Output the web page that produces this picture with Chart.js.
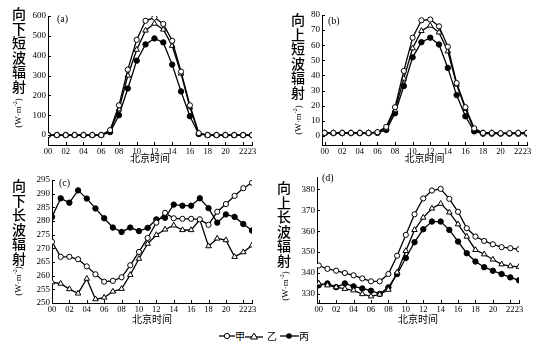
<!DOCTYPE html>
<html>
<head>
<meta charset="utf-8">
<script src="https://cdn.jsdelivr.net/npm/chart.js@4/dist/chart.umd.min.js"></script>
<style>
    body { margin: 0; background: #fff; width: 545px; height: 350px; position: relative; overflow: hidden; font-family: "Liberation Serif", serif; }
    canvas { position: absolute; }
    .vt { position: absolute; font-family: "Noto Sans CJK SC", sans-serif; font-weight: 500; font-size: 14px; line-height: 14.6px; width: 14px; color: #000; }
    .unit { position: absolute; font-size: 9px; transform: translate(-50%, -50%) rotate(-90deg); white-space: nowrap; color: #000; }
    .tag { position: absolute; font-size: 10px; color: #000; }
    #legend { position: absolute; left: 219px; top: 328px; font-family: "Noto Sans CJK SC", sans-serif; font-size: 10px; color: #000; display: flex; align-items: center; }
    #legend svg { display: block; }
</style>
</head>
<body>
<canvas id="chartA" width="272" height="165" style="left:0;top:0"></canvas>
<canvas id="chartB" width="273" height="165" style="left:272px;top:0"></canvas>
<canvas id="chartC" width="272" height="161" style="left:0;top:165px"></canvas>
<canvas id="chartD" width="273" height="161" style="left:272px;top:165px"></canvas>

<div class="vt" style="left:12px;top:6px">向下短波辐射</div>
<div class="unit" style="left:17px;top:113px">(W·m<sup style="font-size:6px">-2</sup>)</div>
<div class="vt" style="left:291px;top:12px">向上短波辐射</div>
<div class="unit" style="left:297px;top:120px">(W·m<sup style="font-size:6px">-2</sup>)</div>
<div class="vt" style="left:12px;top:178px">向下长波辐射</div>
<div class="unit" style="left:17px;top:281px">(W·m<sup style="font-size:6px">-2</sup>)</div>
<div class="vt" style="left:277px;top:180px">向上长波辐射</div>
<div class="unit" style="left:284px;top:286px">(W·m<sup style="font-size:6px">-2</sup>)</div>

<div class="tag" style="left:57px;top:13px">(a)</div>
<div class="tag" style="left:328px;top:15px">(b)</div>
<div class="tag" style="left:59px;top:177px">(c)</div>
<div class="tag" style="left:322px;top:172px">(d)</div>

<div id="legend">
    <svg width="16" height="10"><line x1="0" y1="5" x2="16" y2="5" stroke="#000" stroke-width="1.3"/><circle cx="8" cy="5" r="2.6" fill="#fff" stroke="#000"/></svg>
    <span>甲</span>
    <svg width="18" height="10"><line x1="0" y1="6" x2="18" y2="6" stroke="#000" stroke-width="1.3"/><polygon points="9,2 12.5,8 5.5,8" fill="#fff" stroke="#000"/></svg>
    <span style="margin-left:4px">乙</span>
    <svg width="19" height="10" style="margin-left:3px"><line x1="0" y1="5" x2="19" y2="5" stroke="#000" stroke-width="1.3"/><circle cx="9" cy="5" r="2.8" fill="#000"/></svg>
    <span>丙</span>
</div>

<script>
const hours = [0, 1, 2, 3, 4, 5, 6, 7, 8, 9, 10, 11, 12, 13, 14, 15, 16, 17, 18, 19, 20, 21, 22, 23];
const xTicks = [0, 2, 4, 6, 8, 10, 12, 14, 16, 18, 20, 22, 23];

// (a) downward shortwave
const swDownJia = [0, 0, 0, 0, 0, 0, 0, 25, 150, 330, 480, 576, 592, 560, 475, 320, 150, 10, 0, 0, 0, 0, 0, 0];
const swDownYi = [0, 0, 0, 0, 0, 0, 0, 20, 130, 300, 430, 527, 562, 532, 450, 310, 140, 8, 0, 0, 0, 0, 0, 0];
const swDownBing = [0, 0, 0, 0, 0, 0, 0, 15, 100, 235, 375, 457, 487, 467, 355, 220, 95, 5, 0, 0, 0, 0, 0, 0];
const yTicksA = [0, 100, 200, 300, 400, 500, 600];

// (b) upward shortwave
const swUpJia = [2, 2, 2, 2, 2, 2, 2.5, 6, 19, 43, 65, 76.5, 77, 72.5, 59, 35, 19, 5, 2, 2, 1.8, 1.8, 2, 2];
const swUpYi = [2, 2, 2, 2, 2, 2, 2.5, 5, 17, 38, 58, 69.5, 73, 68.5, 56, 34, 18, 4, 2, 2, 1.8, 1.8, 2, 2];
const swUpBing = [1.8, 1.8, 1.8, 1.8, 1.8, 1.8, 2, 4, 15, 33, 52, 62, 65, 60.5, 45, 27, 13, 3, 1.5, 1.5, 1.5, 1.5, 1.5, 1.5];
const yTicksB = [0, 10, 20, 30, 40, 50, 60, 70, 80];

// (c) downward longwave
const lwDownJia = [272.4, 266.9, 266.9, 266, 263.4, 260.5, 257.8, 258.1, 259.4, 263.8, 268.7, 273.8, 279.4, 283, 281, 280.8, 280.8, 280.6, 278.6, 283.4, 286.2, 289.2, 292, 294];
const lwDownYi = [257.6, 257.1, 255.1, 253.5, 258.9, 251.4, 252, 254.2, 255.2, 260.3, 266.2, 271.7, 274.9, 276.9, 278.4, 276.7, 276.7, 280.4, 270.8, 273.6, 273, 266.9, 268.6, 271.1];
const lwDownBing = [281.5, 288.3, 286.7, 291.2, 288.2, 284.6, 281, 277.6, 276, 277.6, 276.3, 277.5, 280.6, 281.2, 286, 285.6, 285.6, 288.3, 284.7, 279.4, 282.4, 281.5, 278.9, 276.5];
const yTicksC = [250, 255, 260, 265, 270, 275, 280, 285, 290, 295];

// (d) upward longwave
const lwUpJia = [343.5, 341.9, 341, 339.9, 338.8, 337.3, 335.9, 335.9, 339.4, 348.2, 358.2, 368.1, 375.7, 379.5, 380.3, 375.5, 369.3, 361.4, 357.4, 355.3, 353.7, 352.3, 351.8, 351.3];
const lwUpYi = [334.9, 334, 333.1, 332.3, 331.6, 329.8, 328.7, 329.6, 331.9, 340.2, 350.5, 360.6, 366.5, 370.9, 373.2, 369, 363.3, 357.4, 351, 348.9, 346.4, 344.1, 343.2, 342.9];
const lwUpBing = [334, 334.9, 333.1, 334.9, 333.5, 332.5, 331.4, 329.9, 333, 339.4, 347.1, 354.7, 360.9, 364.6, 364.6, 360.6, 355, 349.4, 345.4, 342.7, 341, 339.4, 337.8, 336.4];
const yTicksD = [330, 340, 350, 360, 370, 380];

const tickFont = { family: 'Liberation Serif', size: 9 };
const xTickFont = { family: 'Liberation Serif', size: 8.5 };

// small tick marks pointing into the plot, like the original figure
const innerTicks = {
    id: 'innerTicks',
    afterDraw(chart) {
        const ctx = chart.ctx;
        const x = chart.scales.x, y = chart.scales.y;
        ctx.save();
        ctx.strokeStyle = '#000';
        ctx.lineWidth = 1;
        ctx.beginPath();
        x.ticks.forEach(t => {
            const px = Math.round(x.getPixelForValue(t.value)) + 0.5;
            ctx.moveTo(px, y.bottom);
            ctx.lineTo(px, y.bottom - 3);
        });
        y.ticks.forEach(t => {
            const py = Math.round(y.getPixelForValue(t.value)) + 0.5;
            ctx.moveTo(x.left, py);
            ctx.lineTo(x.left + 3, py);
        });
        ctx.stroke();
        ctx.restore();
    }
};

function toPoints(values) {
    return hours.map((h, i) => ({ x: h, y: values[i] }));
}

function makeDatasets(jia, yi, bing) {
    const base = { borderColor: '#000', borderWidth: 1.3, pointBorderColor: '#000', pointBorderWidth: 1, tension: 0 };
    return [
        { ...base, label: '甲', data: toPoints(jia), pointStyle: 'circle', pointRadius: 2.6, pointBackgroundColor: '#fff' },
        { ...base, label: '乙', data: toPoints(yi), pointStyle: 'triangle', pointRadius: 3.2, pointBackgroundColor: '#fff' },
        { ...base, label: '丙', data: toPoints(bing), pointStyle: 'circle', pointRadius: 2.7, pointBackgroundColor: '#000' }
    ];
}

function drawPanel(id, datasets, cfg) {
    const ctx = document.getElementById(id).getContext('2d');
    new Chart(ctx, {
        type: 'line',
        data: { datasets: datasets },
        plugins: [innerTicks],
        options: {
            responsive: false,
            animation: false,
            events: [],
            layout: { padding: { top: cfg.top, right: cfg.right, left: 0, bottom: 0 } },
            plugins: { legend: { display: false }, tooltip: { enabled: false } },
            scales: {
                x: {
                    type: 'linear',
                    min: cfg.xMin,
                    max: 23,
                    afterBuildTicks: (scale) => { scale.ticks = xTicks.map(v => ({ value: v })); },
                    afterFit: (scale) => { scale.height = cfg.xHeight; },
                    grid: { display: false, drawTicks: false },
                    border: { display: true, color: '#000', width: 1 },
                    ticks: {
                        font: xTickFont, color: '#000', padding: 2, maxRotation: 0, autoSkip: false,
                        callback: (v) => String(v).padStart(2, '0')
                    },
                    title: {
                        display: true, text: '北京时间', color: '#000', padding: { top: 0, bottom: 1 },
                        font: { family: 'Noto Sans CJK SC', size: 10, lineHeight: 1.2 }
                    }
                },
                y: {
                    min: cfg.yMin,
                    max: cfg.yMax,
                    afterBuildTicks: (scale) => { scale.ticks = cfg.yTicks.map(v => ({ value: v })); },
                    afterFit: (scale) => { scale.width = cfg.left; },
                    grid: { display: false, drawTicks: false },
                    border: { display: true, color: '#000', width: 1 },
                    ticks: { font: tickFont, color: '#000', padding: 2, autoSkip: false }
                }
            }
        }
    });
}

drawPanel('chartA', makeDatasets(swDownJia, swDownYi, swDownBing),
    { top: 16, right: 20, left: 48, xHeight: 20, xMin: 0, yMin: -50, yMax: 600, yTicks: yTicksA });
drawPanel('chartB', makeDatasets(swUpJia, swUpYi, swUpBing),
    { top: 15, right: 18, left: 50, xHeight: 20, xMin: -0.3, yMin: -6, yMax: 80, yTicks: yTicksB });
drawPanel('chartC', makeDatasets(lwDownJia, lwDownYi, lwDownBing),
    { top: 15, right: 20, left: 52, xHeight: 23, xMin: 0, yMin: 250, yMax: 295, yTicks: yTicksC });
drawPanel('chartD', makeDatasets(lwUpJia, lwUpYi, lwUpBing),
    { top: 12, right: 26, left: 45, xHeight: 23, xMin: -0.2, yMin: 325.5, yMax: 386, yTicks: yTicksD });
</script>
</body>
</html>
